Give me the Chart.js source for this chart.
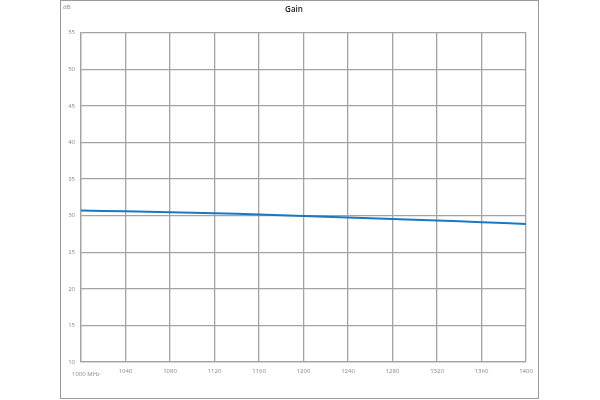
<!DOCTYPE html>
<html>
<head>
<meta charset="utf-8">
<script src="https://cdn.jsdelivr.net/npm/chart.js@4"></script>
<style>
html,body{margin:0;padding:0;background:#fff;}
#wrap{width:600px;height:400px;position:relative;}
</style>
</head>
<body>
<div id="wrap"><canvas id="c" width="600" height="400"></canvas></div>
<script>
const frequencies = [1000, 1040, 1080, 1120, 1160, 1200, 1240, 1280, 1320, 1360, 1400];
const gainValues = [30.68, 30.58, 30.45, 30.33, 30.15, 29.95, 29.74, 29.54, 29.33, 29.1, 28.85];
const yTicks = [10, 15, 20, 25, 30, 35, 40, 45, 50, 55];
const titleText = 'Gain';
const yUnit = 'dB';
const xUnitLabel = '1000 MHz';

const extras = {
  id: 'extras',
  beforeDraw(chart) {
    const ctx = chart.ctx;
    ctx.save();
    ctx.strokeStyle = '#9a9a9a';
    ctx.lineWidth = 1;
    ctx.strokeRect(60.5, 0.5, 478, 398);
    ctx.restore();
  },
  afterDraw(chart) {
    const ctx = chart.ctx;
    const x = chart.scales.x;
    ctx.save();
    ctx.fillStyle = '#888';
    ctx.font = '6px "Open Sans"';
    ctx.textBaseline = 'middle';
    ctx.textAlign = 'left';
    ctx.fillText(yUnit, 63, 7);
    ctx.fillText(xUnitLabel, x.getPixelForValue(frequencies[0]) - 9, 374);
    ctx.restore();
  }
};

new Chart(document.getElementById('c'), {
  type: 'line',
  data: {
    datasets: [{
      data: frequencies.map((f, i) => ({x: f, y: gainValues[i]})),
      borderColor: '#1a78c2',
      borderWidth: 2,
      pointRadius: 0,
      tension: 0.3,
      fill: false
    }]
  },
  options: {
    responsive: false,
    animation: false,
    devicePixelRatio: 1,
    layout: {padding: {left: 62, right: 74, top: 0, bottom: 0}},
    plugins: {
      legend: {display: false},
      tooltip: {enabled: false},
      title: {
        display: true,
        text: titleText,
        color: '#222',
        font: {family: '"Open Sans"', size: 8, weight: '600'},
        padding: {top: 5, bottom: 18}
      }
    },
    scales: {
      x: {
        type: 'linear',
        min: 1000, max: 1400,
        afterFit: s => { s.height = 38; },
        afterBuildTicks: s => { s.ticks = frequencies.map(v => ({value: v})); },
        grid: {color: '#a3a3a3', lineWidth: 1.3, drawTicks: false},
        border: {color: '#a3a3a3', width: 1.3},
        ticks: {
          color: '#888',
          font: {family: '"Open Sans"', size: 6},
          padding: 6,
          maxRotation: 0,
          autoSkip: false,
          callback: v => v === 1000 ? '' : String(v)
        }
      },
      y: {
        min: 10, max: 55,
        afterFit: s => { s.width = 19; },
        afterBuildTicks: s => { s.ticks = yTicks.map(v => ({value: v})); },
        grid: {color: '#a3a3a3', lineWidth: 1.3, drawTicks: false},
        border: {color: '#a3a3a3', width: 1.3},
        ticks: {
          color: '#888',
          font: {family: '"Open Sans"', size: 6},
          padding: 6
        }
      }
    }
  },
  plugins: [extras]
});
</script>
</body>
</html>
